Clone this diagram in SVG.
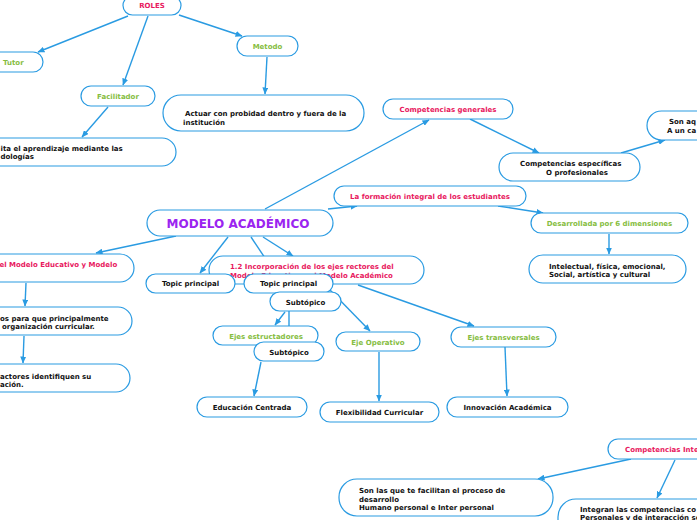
<svg xmlns="http://www.w3.org/2000/svg" width="697" height="520" viewBox="0 0 697 520">
<defs>
<marker id="arr" markerWidth="7" markerHeight="6" refX="6.5" refY="3" orient="auto" markerUnits="userSpaceOnUse">
<path d="M0,0 L7,3 L0,6 z" fill="#2a9be2"/>
</marker>
<style>
.e{stroke:#2a9be2;stroke-width:1.4;fill:none;marker-end:url(#arr)}
.l{stroke:#2a9be2;stroke-width:1.4;fill:none}
.b{fill:#fff;stroke:#2a9be2;stroke-width:1.2}
text{font-family:"DejaVu Sans","Verdana",sans-serif;font-weight:bold;font-size:7px;fill:#111}
.m{text-anchor:middle}
.p{fill:#e8185e}
.g{fill:#86bd3f}
.big{font-size:12px;fill:#9b24f0}
</style>
</defs>
<rect width="697" height="520" fill="#fff"/>
<g id="connectors">
<path class="e" d="M128,16 L38,52"/>
<path class="e" d="M148,16 L123,85"/>
<path class="e" d="M179,15 L242,36"/>
<path class="e" d="M267,57 L265,94"/>
<path class="e" d="M108,107 L82,137"/>
<path class="e" d="M265,209 L429,120"/>
<path class="e" d="M470,119 L539,153"/>
<path class="e" d="M621,153 L665,140"/>
<path class="e" d="M328,209 L357,206"/>
<path class="e" d="M498,206 L543,213"/>
<path class="e" d="M609,234 L609,254"/>
<path class="e" d="M176,236 L96,253"/>
<path class="e" d="M26,283 L25,306"/>
<path class="e" d="M24,336 L23,363"/>
<path class="e" d="M228,237 L200,273"/>
<path class="l" d="M251,237 L275,273"/>
<path class="e" d="M263,237 L293,256"/>
<path class="e" d="M330,290 L370,331"/>
<path class="e" d="M285,312 L275,325"/>
<path class="l" d="M289,300 L289,341"/>
<path class="e" d="M261,362 L254,396"/>
<path class="e" d="M379,352 L379,401"/>
<path class="e" d="M358,285 L474,326"/>
<path class="e" d="M505,347 L507,396"/>
<path class="e" d="M631,459 L538,479"/>
<path class="e" d="M675,460 L657,498"/>
</g>
<g id="roles"><rect class="b" x="123" y="-4" width="58" height="19" rx="9.5"/><text class="m p" x="152" y="8">ROLES</text></g>
<g id="tutor"><rect class="b" x="-20" y="52" width="63" height="20" rx="10"/><text class="g" x="3" y="65">Tutor</text></g>
<g id="facilitador"><rect class="b" x="81" y="86" width="74" height="20" rx="10"/><text class="m g" x="118" y="98.5">Facilitador</text></g>
<g id="metodo"><rect class="b" x="237" y="36" width="61" height="20" rx="10"/><text class="m g" x="267.5" y="48.5">Metodo</text></g>
<g id="actuar"><rect class="b" x="163" y="95" width="201" height="36" rx="18"/><text x="185" y="115.5">Actuar con probidad dentro y fuera de la</text><text x="183" y="125">institución</text></g>
<g id="facilita"><rect class="b" x="-20" y="138" width="196" height="28" rx="14"/><text x="0.5" y="150.5">ita el aprendizaje mediante las</text><text x="0.5" y="159">dologías</text></g>
<g id="competencias-generales"><rect class="b" x="383" y="99" width="130" height="20" rx="10"/><text class="m p" x="448" y="111.5">Competencias generales</text></g>
<g id="son-aq"><rect class="b" x="647" y="111" width="80" height="29" rx="14.5"/><text x="669" y="123.5">Son aq</text><text x="667" y="132.5">A un ca</text></g>
<g id="competencias-especificas"><rect class="b" x="499" y="153" width="141" height="28" rx="14"/><text x="520" y="165.5">Competencias específicas</text><text x="546" y="174.5">O profesionales</text></g>
<g id="formacion"><rect class="b" x="334" y="186" width="192" height="20" rx="10"/><text class="m p" x="430" y="198.5">La formación integral de los estudiantes</text></g>
<g id="desarrollada"><rect class="b" x="531" y="213" width="157" height="20" rx="10"/><text class="m g" x="609.5" y="225.5">Desarrollada por 6 dimensiones</text></g>
<g id="intelectual"><rect class="b" x="529" y="255" width="157" height="28" rx="14"/><text x="549" y="268.5">Intelectual, física, emocional,</text><text x="549" y="276.5">Social, artística y cultural</text></g>
<g id="modelo"><rect class="b" x="147" y="210" width="186" height="26" rx="13"/><text class="m big" x="238" y="227.7">MODELO ACADÉMICO</text></g>
<g id="relacion"><rect class="b" x="-20" y="254" width="154" height="28" rx="14"/><text class="p" x="-0.5" y="266.5">el Modelo Educativo y Modelo</text></g>
<g id="os-para"><rect class="b" x="-20" y="307" width="152" height="28" rx="14"/><text x="0" y="320.5">os para que principalmente</text><text x="2" y="328.5">organización curricular.</text></g>
<g id="actores"><rect class="b" x="-20" y="364" width="150" height="28" rx="14"/><text x="0" y="379">actores identifiquen su</text><text x="0" y="387">ación.</text></g>
<g id="incorporacion"><rect class="b" x="209" y="256" width="215" height="28" rx="14"/><text class="p" x="230" y="269">1.2 Incorporación de los ejes rectores del</text><text class="p" x="230" y="277.5">Modelo Educativo y el Modelo Académico</text></g>
<g id="topic1"><rect class="b" x="146" y="274" width="89" height="19" rx="9.5"/><text class="m" x="190.5" y="286">Topic principal</text></g>
<g id="topic2"><rect class="b" x="244" y="274" width="89" height="19" rx="9.5"/><text class="m" x="288.5" y="286">Topic principal</text></g>
<g id="subtopico1"><rect class="b" x="270" y="292" width="71" height="19" rx="9.5"/><text class="m" x="305.5" y="304.5">Subtópico</text></g>
<g id="ejes-estructadores"><rect class="b" x="213" y="326" width="105" height="19" rx="9.5"/><text class="m g" x="266" y="338.5">Ejes estructadores</text></g>
<g id="subtopico2"><rect class="b" x="254" y="342" width="70" height="19" rx="9.5"/><text class="m" x="289" y="354.5">Subtópico</text></g>
<g id="eje-operativo"><rect class="b" x="336" y="332" width="84" height="19" rx="9.5"/><text class="m g" x="378" y="344.5">Eje Operativo</text></g>
<g id="ejes-transversales"><rect class="b" x="451" y="327" width="105" height="20" rx="10"/><text class="m g" x="503.5" y="339.5">Ejes transversales</text></g>
<g id="educacion"><rect class="b" x="197" y="397" width="110" height="20" rx="10"/><text class="m" x="252" y="409.5">Educación Centrada</text></g>
<g id="flexibilidad"><rect class="b" x="320" y="402" width="119" height="20" rx="10"/><text class="m" x="379.5" y="414.5">Flexibilidad Curricular</text></g>
<g id="innovacion"><rect class="b" x="447" y="397" width="121" height="20" rx="10"/><text class="m" x="507.5" y="409.5">Innovación Académica</text></g>
<g id="competencias-inte"><rect class="b" x="608" y="439" width="110" height="20" rx="10"/><text class="p" x="625" y="451.5">Competencias Inte</text></g>
<g id="son-las-que"><rect class="b" x="339" y="479" width="214" height="37" rx="18"/><text x="359" y="493">Son las que te facilitan el proceso de</text><text x="359" y="501.5">desarrollo</text><text x="359" y="509.5">Humano personal e Inter personal</text></g>
<g id="integran"><rect class="b" x="558" y="499" width="160" height="40" rx="18"/><text x="580" y="511.5">Integran las competencias co</text><text x="580" y="519.5">Personales y de interacción so</text></g>
</svg>
